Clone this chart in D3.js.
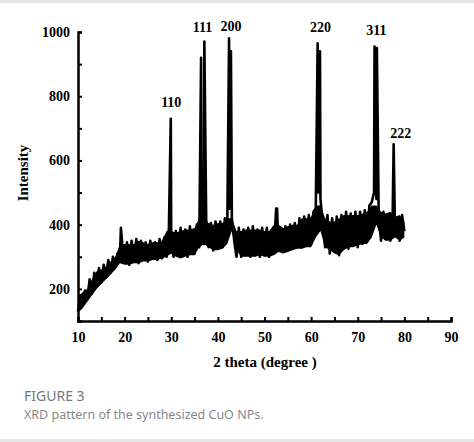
<!DOCTYPE html>
<html><head><meta charset="utf-8">
<script src="https://cdn.jsdelivr.net/npm/d3@7"></script>
<style>body{margin:0;background:#fff}</style>
</head><body>
<svg id="chart" width="474" height="442"></svg>
<script>
// background trace sampled every 0.5 degree, 10..80
const baseStart = 10, baseStep = 0.5;
const baseValues = [
  130,180,150,195,170,230,185,250,210,265,
  220,275,235,290,250,300,270,310,300,340,
  285,345,275,350,290,355,280,350,295,345,
  285,350,300,345,290,355,295,360,300,390,
  330,300,380,305,390,310,385,300,395,320,
  310,400,330,420,340,410,330,405,320,410,
  325,410,330,420,360,450,420,350,300,390,
  300,385,305,390,300,395,305,385,300,390,
  305,390,300,380,310,450,320,390,315,395,
  320,400,325,405,330,420,330,425,335,430,
  340,440,450,500,480,400,330,430,310,420,
  320,425,305,430,330,440,325,435,335,440,
  330,440,340,445,350,460,470,500,480,420,
  350,440,355,430,350,440,370,420,350,430,
  380
];
// noise envelope, one value per degree 10..80
const bandLow = [125,140,160,180,200,215,230,245,260,280,275,275,280,280,285,285,290,290,295,300,
  310,300,295,300,305,305,330,340,330,320,320,325,340,380,320,300,300,300,300,305,
  300,300,305,315,310,315,320,325,325,330,330,360,380,330,320,310,305,320,330,330,
  335,340,340,360,400,360,350,350,360,350,360];
const bandHigh = [175,190,200,230,255,260,270,285,300,340,340,340,340,350,345,340,345,345,350,380,
  380,375,380,385,385,390,420,420,405,400,405,405,420,420,380,380,385,385,385,385,
  380,380,400,400,390,395,400,400,420,420,425,460,460,420,410,410,420,430,430,430,
  430,435,440,460,460,440,435,440,425,430,410];
const peakX = [19.2, 29.9, 36.4, 36.7, 37.1, 42.4, 42.8, 52.7, 61.4, 61.9, 73.6, 74.1, 77.7];
const peakY = [390, 730, 920, 500, 970, 980, 940, 450, 965, 940, 955, 950, 650];
const peakLabels = ["110", "111", "200", "220", "311", "222"];
const labelX = [30, 36.7, 42.8, 62, 74, 79.2];
const labelY = [765, 1000, 1003, 1000, 990, 670];
const xTicks = [10, 20, 30, 40, 50, 60, 70, 80, 90];
const yTicks = [200, 400, 600, 800, 1000];

const svg = d3.select("#chart");
const marginLeft = 78, marginRight = 23, axisY = 321;

const x = d3.scaleLinear().domain([10, 90]).range([marginLeft, 474 - marginRight]);
const y = d3.scaleLinear().domain([100, 1000]).range([axisY, 32]);

svg.append("rect").attr("width", 474).attr("height", 3).attr("fill", "#e6e6e6");
svg.append("rect").attr("y", 439).attr("width", 474).attr("height", 3).attr("fill", "#e6e6e6");

const band = bandLow.map((lo, i) => ({ t: 10 + i, lo, hi: bandHigh[i] }));
svg.append("path").datum(band)
  .attr("fill", "#000")
  .attr("d", d3.area().x(d => x(d.t)).y0(d => y(d.lo)).y1(d => y(d.hi)));

const pts = baseValues.map((v, i) => [baseStart + i * baseStep, v])
  .concat(peakX.map((px, i) => [px, peakY[i]]))
  .sort((a, b) => a[0] - b[0]);

const line = d3.line().x(d => x(d[0])).y(d => y(d[1]));
svg.append("path").datum(pts)
  .attr("fill", "none").attr("stroke", "#000")
  .attr("stroke-width", 2.6).attr("stroke-linejoin", "round")
  .attr("d", line);

const font = "'Liberation Serif', 'Times New Roman', serif";

svg.append("g")
  .attr("transform", `translate(0,${axisY})`)
  .call(d3.axisBottom(x).tickValues(d3.range(10, 91, 5)).tickSize(-4).tickFormat(d => xTicks.includes(d) ? d : ""))
  .call(g => g.select(".domain").attr("stroke-width", 2.5))
  .call(g => g.selectAll(".tick line").attr("stroke-width", 2))
  .call(g => g.selectAll("text").attr("font-family", font).attr("font-weight", "bold")
    .attr("font-size", 14).attr("fill", "#000").attr("dy", "1.3em"));

svg.append("g")
  .attr("transform", `translate(${marginLeft},0)`)
  .call(d3.axisLeft(y).tickValues(d3.range(100, 1001, 100)).tickSize(-4).tickFormat(d => yTicks.includes(d) ? d : ""))
  .call(g => g.select(".domain").attr("stroke-width", 2.5))
  .call(g => g.selectAll(".tick line").attr("stroke-width", 2))
  .call(g => g.selectAll("text").attr("font-family", font).attr("font-weight", "bold")
    .attr("font-size", 14).attr("fill", "#000").attr("x", -8));

svg.append("text").attr("x", 265).attr("y", 367).attr("text-anchor", "middle")
  .attr("font-family", font).attr("font-weight", "bold").attr("font-size", 15)
  .text("2 theta (degree )");
svg.append("text").attr("transform", "translate(28,173) rotate(-90)").attr("text-anchor", "middle")
  .attr("font-family", font).attr("font-weight", "bold").attr("font-size", 15)
  .text("Intensity");

peakLabels.forEach((t, i) => {
  svg.append("text").attr("x", x(labelX[i])).attr("y", y(labelY[i]))
    .attr("text-anchor", "middle").attr("font-family", font).attr("font-weight", "bold")
    .attr("font-size", 14).text(t);
});

svg.append("text").attr("x", 24).attr("y", 401).attr("font-family", "'Noto Sans', sans-serif")
  .attr("font-size", 14).attr("fill", "#777").text("FIGURE 3");
svg.append("text").attr("x", 24).attr("y", 419).attr("font-family", "'Noto Sans', sans-serif")
  .attr("font-size", 12.5).attr("fill", "#888").text("XRD pattern of the synthesized CuO NPs.");
</script>
</body></html>
